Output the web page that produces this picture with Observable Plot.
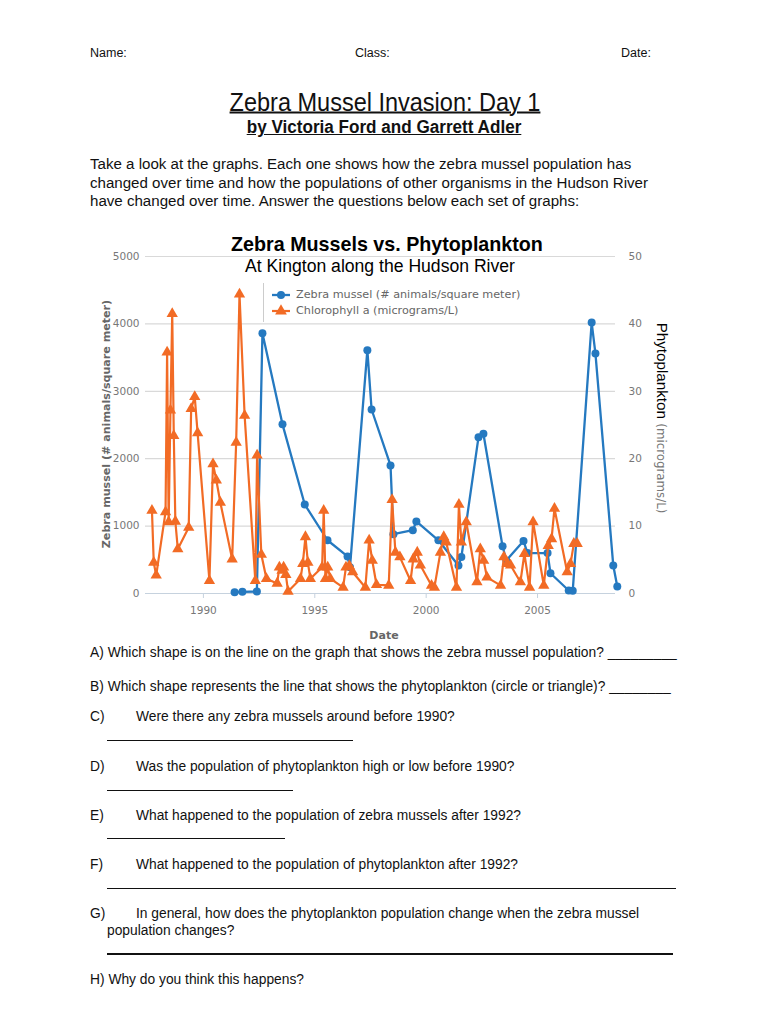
<!DOCTYPE html>
<html>
<head>
<meta charset="utf-8">
<script src="https://cdn.jsdelivr.net/npm/d3@7"></script>
<script src="https://cdn.jsdelivr.net/npm/@observablehq/plot@0.6"></script>
<style>
  html, body { margin: 0; padding: 0; background: white; }
  #page { position: relative; width: 768px; height: 1024px; overflow: hidden; font-family: "Liberation Sans", Arial, sans-serif; color: #111; }
  .t { position: absolute; white-space: nowrap; }
  .narrow { font-family: "Liberation Sans Narrow", "Arial Narrow", "Liberation Sans", sans-serif; }
  .ln { position: absolute; border-top: 1.2px solid #111; height: 0; }
  #chart { position: absolute; left: 95px; top: 250px; }
  .ctitle { font-family: "Liberation Sans", Arial, sans-serif; }
  .leg { position: absolute; font-family: "DejaVu Sans", "Liberation Sans", sans-serif; font-size: 11.2px; color: #666; white-space: nowrap; }
  .q { font-size: 13.8px; }
</style>
</head>
<body>
<div id="page">
  <div class="t narrow" style="left:90px;top:46px;font-size:12.5px;">Name:</div>
  <div class="t narrow" style="left:355px;top:46px;font-size:12.5px;">Class:</div>
  <div class="t narrow" style="left:621px;top:46px;font-size:12.5px;">Date:</div>

  <div class="t narrow" style="left:385px;top:102px;line-height:1;transform:translate(-50%,-50%) scaleX(0.94);font-size:25px;text-decoration:underline;text-decoration-thickness:1.6px;">Zebra Mussel Invasion: Day 1</div>
  <div class="t narrow" style="left:384px;top:127px;line-height:1;transform:translate(-50%,-50%) scaleX(0.95);font-size:18px;font-weight:bold;text-decoration:underline;">by Victoria Ford and Garrett Adler</div>

  <div class="t" style="left:90px;top:155px;font-size:15.1px;">Take a look at the graphs. Each one shows how the zebra mussel population has</div>
  <div class="t" style="left:90px;top:174px;font-size:15.1px;">changed over time and how the populations of other organisms in the Hudson River</div>
  <div class="t" style="left:90px;top:192px;font-size:15.1px;">have changed over time. Answer the questions below each set of graphs:</div>

  <div id="chart"></div>

  <div class="t ctitle" style="left:387px;top:245px;line-height:1;transform:translate(-50%,-50%);font-size:19.7px;font-weight:bold;color:#000;">Zebra Mussels vs. Phytoplankton</div>
  <div class="t ctitle" style="left:380px;top:267px;line-height:1;transform:translate(-50%,-50%);font-size:17.6px;color:#000;">At Kington along the Hudson River</div>

  <div style="position:absolute;left:263px;top:283px;width:0;height:39px;border-left:1px solid #ccc;"></div>
  <svg id="legsym" style="position:absolute;left:268px;top:285px;" width="28" height="36"></svg>
  <div class="leg" style="left:296px;top:288px;">Zebra mussel (# animals/square meter)</div>
  <div class="leg" style="left:296px;top:304px;">Chlorophyll a (micrograms/L)</div>

  <div class="t" style="left:106px;top:424px;transform:translate(-50%,-50%) rotate(-90deg);font-family:'DejaVu Sans','Liberation Sans',sans-serif;font-size:11.1px;font-weight:bold;color:#666;">Zebra mussel (# animals/square meter)</div>
  <div class="t" style="left:662px;top:418px;transform:translate(-50%,-50%) rotate(90deg);"><span style="font-family:'Liberation Sans',sans-serif;font-size:15.2px;color:#000;">Phytoplankton</span> <span style="font-family:'DejaVu Sans','Liberation Sans',sans-serif;font-size:11.8px;color:#777;">(micrograms/L)</span></div>
  <div class="t" style="left:384px;top:635px;transform:translate(-50%,-50%);font-family:'DejaVu Sans','Liberation Sans',sans-serif;font-size:11px;font-weight:bold;color:#666;">Date</div>

  <div class="t q" style="left:90px;top:645px;">A) Which shape is on the line on the graph that shows the zebra mussel population? _________</div>
  <div class="t q" style="left:90px;top:679px;">B) Which shape represents the line that shows the phytoplankton (circle or triangle)? ________</div>

  <div class="t q" style="left:90px;top:709px;">C)</div>
  <div class="t q" style="left:136px;top:709px;">Were there any zebra mussels around before 1990?</div>
  <div class="ln" style="left:107px;top:740px;width:246px;"></div>

  <div class="t q" style="left:90px;top:759px;">D)</div>
  <div class="t q" style="left:136px;top:759px;">Was the population of phytoplankton high or low before 1990?</div>
  <div class="ln" style="left:107px;top:790px;width:186px;"></div>

  <div class="t q" style="left:90px;top:808px;">E)</div>
  <div class="t q" style="left:136px;top:808px;">What happened to the population of zebra mussels after 1992?</div>
  <div class="ln" style="left:107px;top:838px;width:178px;"></div>

  <div class="t q" style="left:90px;top:857px;">F)</div>
  <div class="t q" style="left:136px;top:857px;">What happened to the population of phytoplankton after 1992?</div>
  <div class="ln" style="left:107px;top:888px;width:569px;"></div>

  <div class="t q" style="left:90px;top:906px;">G)</div>
  <div class="t q" style="left:136px;top:906px;">In general, how does the phytoplankton population change when the zebra mussel</div>
  <div class="t q" style="left:107px;top:923px;">population changes?</div>
  <div class="ln" style="left:107px;top:953px;width:566px;border-top-width:2px;"></div>

  <div class="t q" style="left:90px;top:972px;">H) Why do you think this happens?</div>
</div>
<script>
// Zebra mussel (# animals / square meter), left axis
const musselYear = [1991.4, 1991.75, 1992.4, 1992.65, 1993.55, 1994.55, 1995.57, 1996.47, 1996.58, 1997.36, 1997.55, 1998.4, 1998.53, 1999.4, 1999.56, 2000.55, 2001.45, 2001.58, 2002.35, 2002.57, 2003.43, 2003.6, 2004.37, 2004.55, 2005.45, 2005.58, 2006.4, 2006.58, 2007.43, 2007.6, 2008.4, 2008.58];
const musselValue = [20, 25, 30, 3860, 2510, 1320, 790, 550, 390, 3610, 2730, 1900, 880, 940, 1070, 790, 415, 540, 2320, 2370, 700, 490, 780, 600, 600, 300, 45, 40, 4020, 3560, 415, 105];

// Chlorophyll a (micrograms / L), right axis
const chlYear = [1987.69, 1987.77, 1987.88, 1988.30, 1988.37, 1988.44, 1988.52, 1988.60, 1988.67, 1988.74, 1988.85, 1989.34, 1989.45, 1989.61, 1989.74, 1990.27, 1990.43, 1990.58, 1990.76, 1991.29, 1991.47, 1991.62, 1991.85, 1992.33, 1992.41, 1992.60, 1992.83, 1993.31, 1993.41, 1993.53, 1993.60, 1993.70, 1993.80, 1994.36, 1994.46, 1994.58, 1994.69, 1994.80, 1995.33, 1995.40, 1995.48, 1995.58, 1995.70, 1996.27, 1996.40, 1996.55, 1996.70, 1997.27, 1997.44, 1997.58, 1997.77, 1998.32, 1998.47, 1998.62, 1998.82, 1999.30, 1999.42, 1999.60, 1999.74, 2000.24, 2000.37, 2000.64, 2000.79, 2000.90, 2001.36, 2001.47, 2001.58, 2001.80, 2002.28, 2002.43, 2002.58, 2002.73, 2003.34, 2003.49, 2003.64, 2003.79, 2004.23, 2004.41, 2004.64, 2004.80, 2005.28, 2005.48, 2005.63, 2005.76, 2006.33, 2006.48, 2006.63, 2006.78];
const chlValue = [12.3, 4.6, 2.7, 12.1, 35.8, 10.6, 27.2, 41.5, 23.4, 10.7, 6.6, 9.8, 27.4, 29.2, 23.8, 1.9, 19.2, 16.8, 13.5, 5.1, 22.4, 44.4, 26.4, 1.9, 20.5, 5.8, 2.2, 1.5, 3.9, 3.4, 3.9, 2.8, 0.3, 2.2, 4.4, 8.4, 4.6, 2.2, 3.9, 12.3, 2.2, 3.9, 2.2, 0.9, 3.9, 4.1, 3.2, 0.9, 7.9, 4.9, 1.3, 1.2, 13.9, 6.1, 5.4, 1.9, 5.1, 6.1, 4.2, 1.2, 0.9, 6.1, 8.4, 7.6, 0.9, 13.2, 7.6, 10.6, 1.7, 6.6, 4.9, 2.4, 1.2, 5.4, 4.4, 4.2, 1.7, 5.9, 0.9, 10.6, 1.2, 7.1, 8.1, 12.6, 3.2, 4.4, 7.4, 7.4];

const leftTicks = [0, 1000, 2000, 3000, 4000, 5000];
const rightTickLabels = [0, 10, 20, 30, 40, 50];
const xTicks = [1990, 1995, 2000, 2005];

const blue = "#2579c0";
const orange = "#f26b25";
const ratio = 100; // right axis (0-50) shares the left scale (0-5000)

const mussels = musselYear.map((y, i) => ({year: y, value: musselValue[i]}));
const chl = chlYear.map((y, i) => ({year: y, value: chlValue[i] * ratio}));

const chart = Plot.plot({
  width: 595,
  height: 395,
  marginLeft: 50,
  marginRight: 75,
  marginTop: 6,
  marginBottom: 52,
  style: {fontFamily: "'DejaVu Sans', 'Liberation Sans', sans-serif", fontSize: "10.5px", background: "transparent", overflow: "visible"},
  x: {domain: [1987.4, 2008.5]},
  y: {domain: [0, 5000]},
  marks: [
    Plot.gridY(leftTicks.slice(1), {stroke: "#d9d9d9", strokeOpacity: 1, strokeWidth: 1.2}),
    Plot.ruleY([0], {stroke: "#c6d2de", strokeWidth: 1.2}),
    Plot.axisY({ticks: leftTicks, tickSize: 0, tickPadding: 6, tickFormat: d => String(d), label: null, fill: "#777"}),
    Plot.axisY({anchor: "right", ticks: rightTickLabels.map(d => d * ratio), tickSize: 0, tickPadding: 13, tickFormat: d => String(d / ratio), label: null, fill: "#777"}),
    Plot.axisX({ticks: xTicks, tickSize: 5, tickPadding: 8, tickFormat: d => String(d), label: null, stroke: "#c6d2de", fill: "#777"}),
    Plot.line(mussels, {x: "year", y: "value", stroke: blue, strokeWidth: 2.3}),
    Plot.dot(mussels, {x: "year", y: "value", fill: blue, r: 4}),
    Plot.line(chl, {x: "year", y: "value", stroke: orange, strokeWidth: 2.2}),
    Plot.dot(chl, {x: "year", y: "value", symbol: "triangle", fill: orange, r: 4.2})
  ]
});
document.getElementById("chart").appendChild(chart);

// legend symbols
const leg = d3.select("#legsym");
leg.append("line").attr("x1", 4).attr("x2", 22).attr("y1", 10).attr("y2", 10).attr("stroke", blue).attr("stroke-width", 2.3);
leg.append("circle").attr("cx", 13).attr("cy", 10).attr("r", 4).attr("fill", blue);
leg.append("line").attr("x1", 4).attr("x2", 22).attr("y1", 26).attr("y2", 26).attr("stroke", orange).attr("stroke-width", 2.2);
leg.append("path").attr("d", d3.symbol(d3.symbolTriangle, 60)()).attr("transform", "translate(13,26)").attr("fill", orange);
</script>
</body>
</html>
